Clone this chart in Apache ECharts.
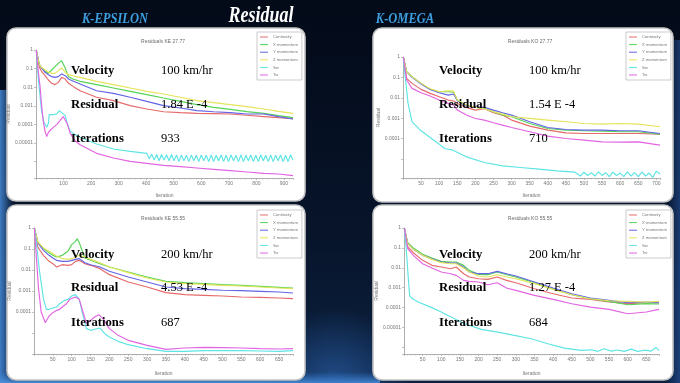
<!DOCTYPE html>
<html><head><meta charset="utf-8">
<script src="https://cdn.jsdelivr.net/npm/echarts@6/dist/echarts.min.js"></script>
<style>html,body{margin:0;padding:0;background:#06101f;}#c{width:680px;height:383px;}</style>
</head><body><div id="c"></div>
<script>
// ---------- legend / series names ----------
const NAMES = ['Continuity', 'X momentum', 'Y momentum', 'Z momentum', 'Sw', 'Tw'];
const COLORS = ['#e66a6a', '#55d455', '#6464e6', '#e4e45a', '#5ee4e4', '#e264e2'];

// ---------- Panel 1 : K-Epsilon, 100 km/hr ----------
const KE1_IT = [1, 12, 20, 33, 45, 57, 69, 81, 93, 99, 106, 118, 136, 160, 220, 281, 342, 402, 463, 524, 584, 645, 705, 766, 827, 880, 933];
const KE1_CONT = [1, 0.117, 0.0713, 0.0417, 0.0244, 0.0162, 0.0138, 0.0182, 0.0339, 0.0417, 0.0275, 0.0162, 0.0107, 0.00646, 0.00288, 0.0019, 0.00102, 0.000676, 0.000479, 0.000427, 0.000389, 0.00038, 0.000363, 0.000309, 0.000263, 0.000229, 0.000204];
const KE1_X = [1, 0.163, 0.108, 0.0713, 0.0557, 0.0841, 0.127, 0.192, 0.267, 0.217, 0.108, 0.0368, 0.0265, 0.0207, 0.0137, 0.00906, 0.006, 0.00397, 0.00262, 0.00174, 0.00115, 0.000828, 0.000646, 0.000484, 0.000394, 0.000295, 0.00023];
const KE1_Y = [1, 0.163, 0.108, 0.063, 0.0472, 0.0368, 0.0339, 0.0368, 0.0513, 0.0557, 0.0417, 0.0275, 0.0207, 0.0149, 0.00646, 0.00468, 0.00288, 0.00174, 0.00102, 0.000762, 0.00055, 0.000479, 0.000427, 0.000363, 0.000363, 0.000263, 0.000195];
const KE1_Z = [1, 0.163, 0.117, 0.0841, 0.0656, 0.0557, 0.0557, 0.0774, 0.108, 0.0955, 0.063, 0.0472, 0.04, 0.0339, 0.0207, 0.0137, 0.00906, 0.006, 0.00431, 0.00288, 0.0019, 0.00148, 0.00115, 0.000898, 0.000676, 0.000504, 0.000389];
const KE1_SW_IT = [1, 8, 15, 20, 29, 39, 45, 48, 53, 63, 75, 85, 93, 99, 106, 114, 124, 142, 160, 220, 281, 342, 402,
  411, 420, 429, 438, 447, 456, 465, 474, 483, 492, 501, 510, 519, 528, 537, 546, 555, 564, 573, 582, 591, 600, 609, 618,
  627, 636, 645, 654, 663, 672, 681, 690, 699, 708, 717, 726, 735, 744, 753, 762, 771, 780, 789, 798, 807, 816, 825, 834,
  843, 852, 861, 870, 879, 888, 897, 906, 915, 924, 933];
const KE1_SW = [1, 0.0339, 0.00288, 0.00055, 0.000129, 6.95e-5, 0.000114, 0.000334, 0.000295, 0.000334, 0.000363, 0.00055, 0.000427, 0.000479, 0.000295, 0.000104, 4.24e-5, 2.81e-5, 2.02e-5, 8.84e-6, 4.75e-6, 3.56e-6, 2.78e-6,
  1.4e-6, 2.5e-6, 1.2e-6, 2.4e-6, 1.1e-6, 2.4e-6, 1.2e-6, 2.3e-6, 1.1e-6, 2.4e-6,
  1.1e-6, 2.3e-6, 1.0e-6, 2.3e-6, 1.1e-6, 2.2e-6, 1.0e-6, 2.3e-6, 1.1e-6, 2.2e-6,
  1.0e-6, 2.3e-6, 1.1e-6, 2.2e-6, 1.0e-6, 2.3e-6, 1.0e-6, 2.2e-6, 1.1e-6, 2.3e-6,
  1.0e-6, 2.2e-6, 1.0e-6, 2.3e-6, 1.1e-6, 2.2e-6, 1.0e-6, 2.3e-6, 1.0e-6, 2.2e-6,
  1.1e-6, 2.3e-6, 1.0e-6, 2.2e-6, 1.0e-6, 2.3e-6, 1.1e-6, 2.2e-6, 1.0e-6, 2.3e-6,
  1.0e-6, 2.2e-6, 1.1e-6, 2.3e-6, 1.0e-6, 2.2e-6, 1.0e-6, 2.3e-6, 1.2e-6];
const KE1_TW_IT = [1, 8, 15, 20, 26, 33, 39, 45, 53, 63, 75, 87, 99, 106, 114, 124, 142, 160, 220, 281, 342, 402, 463, 524, 584, 645, 705, 766, 827, 880, 933];
const KE1_TW = [1, 0.0774, 0.01, 0.00126, 0.000158, 4.24e-5, 2.19e-5, 3.74e-5, 5.0e-5, 6.95e-5, 9.68e-5, 0.000158, 0.000263, 0.000219, 0.000104, 3.3e-5, 1.33e-5, 8.1e-6, 2.78e-6, 1.56e-6, 1.03e-6, 8.07e-7, 6.3e-7, 5.37e-7, 4.53e-7, 3.84e-7, 3.26e-7, 2.76e-7, 2.34e-7, 2.15e-7, 1.75e-7];

// ---------- Panel 2 : K-Omega, 100 km/hr ----------
const KO1_IT = [1, 10, 25, 50, 75, 100, 125, 140, 150, 175, 200, 225, 250, 275, 300, 350, 400, 450, 500, 550, 600, 650, 710];
const KO1_CONT = [1, 0.09, 0.0512, 0.026, 0.0166, 0.0114, 0.0078, 0.007, 0.00536, 0.00341, 0.00252, 0.00293, 0.00187, 0.00144, 0.000816, 0.000415, 0.000264, 0.000195, 0.000181, 0.000181, 0.000181, 0.000181, 0.000168];
const KO1_X = [1, 0.191, 0.109, 0.0512, 0.026, 0.02, 0.02, 0.019, 0.0078, 0.0044, 0.00341, 0.00305, 0.00209, 0.00144, 0.00119, 0.00056, 0.000318, 0.000264, 0.000245, 0.000236, 0.000219, 0.000219, 0.000168];
const KO1_Y = [1, 0.191, 0.101, 0.0475, 0.026, 0.0179, 0.0137, 0.0154, 0.0072, 0.00396, 0.00367, 0.00341, 0.00252, 0.00187, 0.00144, 0.000676, 0.000357, 0.000284, 0.000264, 0.000264, 0.000245, 0.000245, 0.000181];
const KO1_Z = [1, 0.191, 0.109, 0.0512, 0.028, 0.02, 0.0224, 0.0207, 0.0078, 0.0044, 0.00341, 0.00293, 0.00209, 0.00161, 0.00119, 0.000985, 0.000816, 0.000676, 0.00056, 0.00052, 0.00056, 0.00052, 0.000385];
const KO1_TW = [1, 0.0746, 0.0291, 0.0179, 0.0123, 0.0078, 0.00536, 0.00444, 0.00252, 0.00144, 0.000985, 0.000816, 0.000604, 0.000464, 0.000357, 0.000219, 0.000134, 0.000103, 8.54e-5, 7.08e-5, 6.8e-5, 7.08e-5, 4.85e-5];
const KO1_SW_IT = [1, 6, 14, 25, 50, 75, 100, 115, 138, 175, 225, 275, 325, 375, 425, 475,
  490, 500, 510, 520, 530, 540, 550, 560, 570, 580, 590, 600, 610, 620, 630, 640, 650, 660, 670, 680, 690, 700, 710];
const KO1_SW = [1, 0.109, 0.00536, 0.000676, 0.000245, 0.000115, 5.43e-5, 3.33e-5, 2.76e-5, 1.3e-5, 6.87e-6, 4.71e-6, 3.91e-6, 3.24e-6, 2.68e-6, 2.31e-6,
  1.5e-6, 2.3e-6, 1.6e-6, 2.2e-6, 1.5e-6, 2.4e-6, 1.6e-6, 2.2e-6, 1.4e-6, 2.3e-6, 1.6e-6, 2.1e-6, 1.4e-6, 2.4e-6, 1.5e-6, 2.2e-6, 1.4e-6, 2.3e-6, 1.5e-6, 2.1e-6, 1.3e-6, 2.6e-6, 1.9e-6];

// ---------- Panel 3 : K-Epsilon, 200 km/hr ----------
const KE2_IT = [1, 10, 25, 40, 50, 60, 75, 90, 100, 110, 115, 120, 135, 150, 175, 200, 250, 300, 350, 400, 450, 500, 550, 600, 650, 687];
const KE2_CONT = [1, 0.125, 0.0499, 0.0259, 0.02, 0.0139, 0.0179, 0.0167, 0.0179, 0.0259, 0.0289, 0.0289, 0.02, 0.0167, 0.0116, 0.006, 0.00268, 0.00155, 0.000834, 0.000669, 0.000622, 0.000578, 0.000518, 0.000499, 0.000464, 0.000431];
const KE2_X = [1, 0.216, 0.104, 0.0669, 0.0499, 0.0416, 0.0499, 0.0774, 0.161, 0.232, 0.31, 0.2, 0.0373, 0.0289, 0.02, 0.0139, 0.00803, 0.00464, 0.00289, 0.00249, 0.00223, 0.002, 0.00186, 0.00167, 0.0015, 0.00139];
const KE2_Y = [1, 0.2, 0.0865, 0.0499, 0.0373, 0.0289, 0.0259, 0.0259, 0.0289, 0.0322, 0.0347, 0.0347, 0.0223, 0.0179, 0.0139, 0.00865, 0.00464, 0.00268, 0.00155, 0.00129, 0.0012, 0.00108, 0.00104, 0.000964, 0.000895, 0.000803];
const KE2_Z = [1, 0.216, 0.112, 0.0774, 0.06, 0.0464, 0.0347, 0.0322, 0.0347, 0.0416, 0.0464, 0.0499, 0.0416, 0.0322, 0.0223, 0.0139, 0.00746, 0.00416, 0.00268, 0.00223, 0.00208, 0.00186, 0.00173, 0.00155, 0.00139, 0.00129];
const KE2_SW_IT = [1, 6, 15, 25, 33, 40, 50, 60, 68, 75, 81, 90, 100, 110, 115, 120, 130, 139, 150, 161, 175, 188, 200, 223, 250, 300, 350, 400, 450, 500, 550, 600, 650, 687];
const KE2_SW = [1, 0.216, 0.00803, 0.000431, 0.000134, 0.000134, 0.000155, 0.000173, 0.000249, 0.000299, 0.000359, 0.000401, 0.000578, 0.000669, 0.000622, 0.000401, 6.94e-5, 1.61e-5, 1.34e-5, 1.5e-5, 1.73e-5, 9.29e-6, 6.45e-6, 4.01e-6, 2.78e-6, 1.79e-6, 1.34e-6, 1.34e-6, 1.44e-6, 1.44e-6, 1.44e-6, 1.39e-6, 1.34e-6, 1.44e-6];
const KE2_TW_IT = [1, 6, 12, 19, 30, 40, 50, 60, 68, 75, 86, 95, 110, 120, 130, 139, 150, 161, 172, 183, 200, 223, 250, 300, 350, 400, 450, 500, 550, 600, 650, 687];
const KE2_TW = [1, 0.0499, 0.00129, 0.0001, 3.1e-5, 6.45e-5, 9.29e-5, 0.00012, 0.000134, 0.000173, 0.000249, 0.000401, 0.000518, 0.000401, 0.0001, 2.78e-5, 4.01e-5, 5.78e-5, 7.46e-5, 4.82e-5, 1.61e-5, 7.74e-6, 4.48e-6, 2.59e-6, 1.67e-6, 1.93e-6, 2.08e-6, 2.0e-6, 1.93e-6, 1.79e-6, 1.73e-6, 1.79e-6];

// ---------- Panel 4 : K-Omega, 200 km/hr ----------
const KO2_IT = [1, 10, 25, 50, 75, 100, 125, 140, 160, 175, 200, 225, 250, 275, 300, 350, 400, 450, 500, 550, 600, 650, 684];
const KO2_CONT = [1, 0.111, 0.0576, 0.0237, 0.0133, 0.011, 0.00904, 0.011, 0.00507, 0.00345, 0.00284, 0.00263, 0.00345, 0.00234, 0.00179, 0.000893, 0.000501, 0.000304, 0.00026, 0.000191, 0.000158, 0.000177, 0.000177];
const KO2_X = [1, 0.183, 0.0989, 0.0475, 0.031, 0.0211, 0.0196, 0.0196, 0.0133, 0.00746, 0.0047, 0.00452, 0.00615, 0.00452, 0.00345, 0.00179, 0.000893, 0.000447, 0.000281, 0.000207, 0.00014, 0.000158, 0.000152];
const KO2_Y = [1, 0.163, 0.0847, 0.0423, 0.0288, 0.0196, 0.0174, 0.0174, 0.011, 0.00615, 0.00507, 0.00507, 0.00664, 0.00507, 0.00387, 0.00193, 0.000966, 0.000501, 0.000304, 0.000232, 0.000177, 0.000191, 0.000177];
const KO2_Z = [1, 0.163, 0.0847, 0.0423, 0.0266, 0.0181, 0.0161, 0.0161, 0.00977, 0.00615, 0.00387, 0.00345, 0.00452, 0.00345, 0.00284, 0.0016, 0.000828, 0.000447, 0.000281, 0.000223, 0.000207, 0.000191, 0.000207];
const KO2_TW = [1, 0.0915, 0.0423, 0.0161, 0.00977, 0.00615, 0.00507, 0.00418, 0.00234, 0.00209, 0.00193, 0.00142, 0.00179, 0.000966, 0.000738, 0.000413, 0.00026, 0.000158, 0.000107, 8.18e-5, 4.95e-5, 6.01e-5, 8.18e-5];
const KO2_SW_IT = [1, 6, 11, 15, 20, 38, 73, 100, 118, 163, 207, 252, 296, 341, 386, 430, 475, 502, 520, 537, 555, 573, 591, 609, 627, 645, 663, 676, 684];
const KO2_SW = [1, 0.0915, 0.00418, 0.000413, 0.000304, 0.000191, 0.000103, 6.01e-5, 4.08e-5, 1.56e-5, 8.09e-6, 5.94e-6, 4.04e-6, 2.75e-6, 1.54e-6, 9.33e-7, 7.13e-7, 7.7e-7, 6.4e-7, 8.6e-7, 6.6e-7, 7.5e-7, 6.4e-7, 8.3e-7, 6.4e-7, 7.3e-7, 6.6e-7, 1.0e-6, 6.9e-7];

// ---------- overlay texts ----------
const HEAD_LEFT = 'K-EPSILON', HEAD_MID = 'Residual', HEAD_RIGHT = 'K-OMEGA';
const ROW_LABELS = ['Velocity', 'Residual', 'Iterations'];
const PANEL_TITLES = ['Residuals KE 27.77', 'Residuals KO 27.77', 'Residuals KE 55.55', 'Residuals KO 55.55'];
const PANEL_VALUES = [
  ['100 km/hr', '1.84 E -4', '933'],
  ['100 km/hr', '1.54 E -4', '710'],
  ['200 km/hr', '4.53 E -4', '687'],
  ['200 km/hr', '1.27 E -4', '684']
];
const X_TICK_STEP = [100, 50, 50, 50];
const X_MAX = [933, 710, 687, 684];
const Y_LOWEST_LABEL = [1e-5, 1e-4, 1e-4, 1e-5];

function pairs(its, vals) { return its.map((x, i) => [x, vals[i]]); }

const PANEL_DATA = [
  [pairs(KE1_IT, KE1_CONT), pairs(KE1_IT, KE1_X), pairs(KE1_IT, KE1_Y), pairs(KE1_IT, KE1_Z), pairs(KE1_SW_IT, KE1_SW), pairs(KE1_TW_IT, KE1_TW)],
  [pairs(KO1_IT, KO1_CONT), pairs(KO1_IT, KO1_X), pairs(KO1_IT, KO1_Y), pairs(KO1_IT, KO1_Z), pairs(KO1_SW_IT, KO1_SW), pairs(KO1_IT, KO1_TW)],
  [pairs(KE2_IT, KE2_CONT), pairs(KE2_IT, KE2_X), pairs(KE2_IT, KE2_Y), pairs(KE2_IT, KE2_Z), pairs(KE2_SW_IT, KE2_SW), pairs(KE2_TW_IT, KE2_TW)],
  [pairs(KO2_IT, KO2_CONT), pairs(KO2_IT, KO2_X), pairs(KO2_IT, KO2_Y), pairs(KO2_IT, KO2_Z), pairs(KO2_SW_IT, KO2_SW), pairs(KO2_IT, KO2_TW)]
];

// ---------- layout (styles) ----------
const LAYOUT = [
  { box: [7, 28, 298, 173], grid: { left: 36, top: 50, width: 257, height: 128 }, ymin: 1.31e-7, lg: [257, 32], title: [163, 42], txt: [71, 161, 71, 105, 139], yGap: 22, xGap: 15 },
  { box: [373, 28, 300, 174], grid: { left: 403, top: 57, width: 257, height: 121 }, ymin: 1.2e-6, lg: [626, 32], title: [530, 42], txt: [439, 529, 71, 105, 139], yGap: 20, xGap: 15 },
  { box: [7, 205, 298, 175], grid: { left: 34, top: 228, width: 259, height: 126 }, ymin: 1e-6, lg: [257, 210], title: [163, 219], txt: [71, 161, 255, 288, 323], yGap: 20, xGap: 17 },
  { box: [373, 205, 300, 175], grid: { left: 404, top: 228, width: 255, height: 126 }, ymin: 4.7e-7, lg: [626, 210], title: [530, 219], txt: [439, 529, 255, 288, 323], yGap: 22, xGap: 17 }
];

const SERIF = '"Liberation Serif", "Times New Roman", serif';
const SANS = '"Liberation Sans", Arial, sans-serif';

const chart = echarts.init(document.getElementById('c'), null, { renderer: 'canvas' });

const grids = [], xAxes = [], yAxes = [], legends = [], series = [], G = [];

// background
G.push({ type: 'rect', z: -100, shape: { x: 0, y: 0, width: 680, height: 383 },
  style: { fill: new echarts.graphic.LinearGradient(0, 0, 0, 1, [{ offset: 0, color: '#030a18' }, { offset: 0.6, color: '#07142a' }, { offset: 1, color: '#0c2140' }]) } });
G.push({ type: 'rect', z: -99, shape: { x: 0, y: 90, width: 14, height: 293 },
  style: { fill: new echarts.graphic.LinearGradient(0, 0, 1, 0, [{ offset: 0, color: 'rgba(70,140,220,0.85)' }, { offset: 1, color: 'rgba(70,140,220,0)' }]) } });
G.push({ type: 'rect', z: -99, shape: { x: 0, y: 372, width: 380, height: 11 },
  style: { fill: new echarts.graphic.LinearGradient(0, 0, 0, 1, [{ offset: 0, color: 'rgba(60,130,210,0)' }, { offset: 1, color: 'rgba(80,150,225,0.9)' }]) } });
G.push({ type: 'circle', z: -99, shape: { cx: 335, cy: 383, r: 75 },
  style: { fill: new echarts.graphic.RadialGradient(0.5, 0.5, 0.5, [{ offset: 0, color: 'rgba(50,115,200,0.55)' }, { offset: 1, color: 'rgba(50,115,200,0)' }]) } });
G.push({ type: 'rect', z: -99, shape: { x: 666, y: 40, width: 14, height: 343 },
  style: { fill: new echarts.graphic.LinearGradient(1, 0, 0, 0, [{ offset: 0, color: 'rgba(40,90,170,0.55)' }, { offset: 1, color: 'rgba(40,90,170,0)' }]) } });

// headings
function headText(txt, x, y, size, color, sy) {
  return { type: 'text', x: x, y: y, scaleY: sy, z: 100,
    style: { text: txt, fill: color, font: 'italic bold ' + size + 'px ' + SERIF,
      align: 'center', verticalAlign: 'middle', textAlign: 'center', textVerticalAlign: 'middle' } };
}
G.push(headText(HEAD_LEFT, 115, 19, 12.5, '#3d9fe0', 1.2));
G.push(headText(HEAD_MID, 261, 16, 18, '#ffffff', 1.27));
G.push(headText(HEAD_RIGHT, 405, 19, 12.5, '#3d9fe0', 1.2));

LAYOUT.forEach((L, i) => {
  // panel card
  G.push({ type: 'rect', z: -50, shape: { x: L.box[0], y: L.box[1], width: L.box[2], height: L.box[3], r: 9 },
    style: { fill: '#ffffff', stroke: '#c4c4c4', lineWidth: 1.6 } });
  // small chart title
  G.push({ type: 'text', x: L.title[0], y: L.title[1], z: 60,
    style: { text: PANEL_TITLES[i], fill: '#6a6a6a', font: '5px ' + SANS, align: 'center', verticalAlign: 'middle', textAlign: 'center', textVerticalAlign: 'middle' } });
  // overlay texts
  const tx = L.txt;
  [tx[2], tx[3], tx[4]].forEach((yy, r) => {
    G.push({ type: 'text', x: tx[0], y: yy, z: 100,
      style: { text: ROW_LABELS[r], fill: '#000', font: 'bold 12.7px ' + SERIF, align: 'left', verticalAlign: 'middle', textAlign: 'left', textVerticalAlign: 'middle' } });
    G.push({ type: 'text', x: tx[1], y: yy, z: 100,
      style: { text: PANEL_VALUES[i][r], fill: '#000', font: '12.5px ' + SERIF, align: 'left', verticalAlign: 'middle', textAlign: 'left', textVerticalAlign: 'middle' } });
  });

  grids.push(Object.assign({ containLabel: false }, L.grid));
  const step = X_TICK_STEP[i];
  xAxes.push({ type: 'value', gridIndex: i, min: 0, max: X_MAX[i], interval: step, z: 5,
    name: 'Iteration', nameLocation: 'middle', nameGap: L.xGap, nameTextStyle: { fontSize: 5, color: '#777', fontFamily: SANS },
    axisLine: { show: true, lineStyle: { color: '#9a9a9a', width: 0.8 } },
    axisTick: { show: true, length: 2, lineStyle: { color: '#9a9a9a', width: 0.6 } },
    minorTick: { show: true, splitNumber: 5, length: 1.5, lineStyle: { color: '#aaa', width: 0.5 } },
    splitLine: { show: false },
    axisLabel: { fontSize: 5, color: '#777', margin: 3, fontFamily: SANS,
      formatter: v => (v > 0 && v % step === 0) ? String(v) : '' } });
  const lowest = Y_LOWEST_LABEL[i];
  yAxes.push({ type: 'log', logBase: 10, gridIndex: i, min: L.ymin, max: 1, z: 5,
    name: 'Residual', nameLocation: 'middle', nameRotate: 90, nameGap: L.yGap, nameTextStyle: { fontSize: 5, color: '#777', fontFamily: SANS },
    axisLine: { show: true, lineStyle: { color: '#9a9a9a', width: 0.8 } },
    axisTick: { show: true, length: 2, lineStyle: { color: '#9a9a9a', width: 0.6 } },
    splitLine: { show: false },
    axisLabel: { fontSize: 5, color: '#777', margin: 3, fontFamily: SANS,
      formatter: v => {
        const lg = Math.log10(v), e = Math.round(lg);
        if (Math.abs(lg - e) > 0.01 || v < lowest * 0.99 || v > 1.01) return '';
        return e >= 0 ? '1' : v.toFixed(-e);
      } } });
  legends.push({ data: NAMES, orient: 'vertical', left: L.lg[0], top: L.lg[1], z: 60,
    icon: 'rect', itemWidth: 8, itemHeight: 1, itemGap: 3.6, padding: [3, 4, 3, 3], selectedMode: false,
    backgroundColor: '#ffffff', borderColor: '#a8a8a8', borderWidth: 0.6,
    textStyle: { fontSize: 4.2, color: '#777', fontFamily: SANS } });
  PANEL_DATA[i].forEach((d, k) => {
    series.push({ type: 'line', name: NAMES[k], xAxisIndex: i, yAxisIndex: i, data: d,
      symbol: 'none', showSymbol: false, silent: true, z: 6,
      lineStyle: { width: 1.15, color: COLORS[k] }, itemStyle: { color: COLORS[k] } });
  });
});

chart.setOption({
  animation: false,
  backgroundColor: '#06101f',
  grid: grids, xAxis: xAxes, yAxis: yAxes, legend: legends, series: series,
  graphic: { elements: G }
});
</script></body></html>
